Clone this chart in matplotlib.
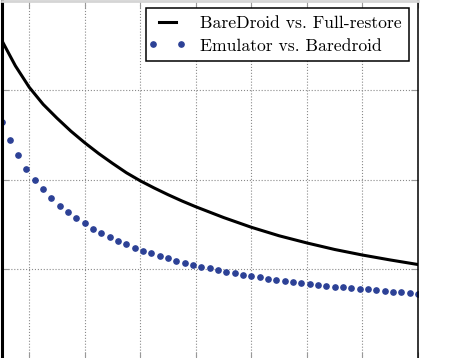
import matplotlib
matplotlib.use('Agg')
import matplotlib.pyplot as plt
from matplotlib.legend_handler import HandlerLine2D

plt.rcParams['font.family'] = ['cmr10', 'DejaVu Serif']
plt.rcParams['axes.unicode_minus'] = False

# solid curve: BareDroid vs. Full-restore
full_x = [0.5, 0.75, 1.0, 1.25, 1.5, 1.75, 2.0, 2.25, 2.5, 2.75, 3.0, 3.25,
          3.5, 3.75, 4.0, 4.5, 5.0, 5.5, 6.0, 6.5, 7.0, 7.5, 8.0]
full_y = [3.56, 3.27, 3.03, 2.84, 2.685, 2.54, 2.41, 2.29, 2.18, 2.075, 1.985, 1.905,
          1.83, 1.76, 1.695, 1.575, 1.466, 1.371, 1.291, 1.218, 1.156, 1.101, 1.05]

# dotted curve: Emulator vs. Baredroid
emu_x = [0.5, 0.65, 0.8, 0.95, 1.1, 1.25, 1.4, 1.55, 1.7, 1.85,
         2.0, 2.15, 2.3, 2.45, 2.6, 2.75, 2.9, 3.05, 3.2, 3.35,
         3.5, 3.65, 3.8, 3.95, 4.1, 4.25, 4.4, 4.55, 4.7, 4.85,
         5.0, 5.15, 5.3, 5.45, 5.6, 5.75, 5.9, 6.05, 6.2, 6.35,
         6.5, 6.65, 6.8, 6.95, 7.1, 7.25, 7.4, 7.55, 7.7, 7.85, 8.0]
emu_y = [2.64, 2.44, 2.27, 2.12, 1.99, 1.89, 1.79, 1.70, 1.64, 1.57,
         1.51, 1.45, 1.40, 1.36, 1.31, 1.28, 1.24, 1.20, 1.18, 1.15,
         1.12, 1.09, 1.07, 1.045, 1.02, 1.01, 0.99, 0.97, 0.955, 0.933,
         0.922, 0.911, 0.888, 0.877, 0.866, 0.855, 0.844, 0.832, 0.821, 0.81,
         0.80, 0.795, 0.788, 0.777, 0.772, 0.765, 0.754, 0.745, 0.740, 0.732, 0.721]

fig = plt.figure(figsize=(4.74, 3.58), dpi=100)
ax = fig.add_axes([1.5/474, -0.5/358, 416.5/474, 358/358])

ax.plot(full_x, full_y, ls='-', color='black', lw=2.2, solid_joinstyle='round',
        label='BareDroid vs. Full-restore')
emu_line, = ax.plot(emu_x, emu_y, ls='none', marker='o', ms=3.8, color='#2c4196',
                    label='Emulator vs. Baredroid')

ax.set_xlim(0.5, 8)
ax.set_ylim(0, 4)
ax.set_xticks([1, 2, 3, 4, 5, 6, 7, 8])
ax.set_yticks([1, 2, 3])
ax.set_xticklabels([])
ax.set_yticklabels([])
ax.tick_params(direction='in', length=5, color='#999999', top=True, right=True)
ax.grid(True, ls=':', color='#8a8a8a', lw=0.8)

ax.spines['left'].set_linewidth(2.2)
ax.spines['right'].set_linewidth(1.1)
ax.spines['top'].set_color('#d5d5d5')
ax.spines['top'].set_linewidth(2)
ax.spines['bottom'].set_visible(False)

leg = ax.legend(loc='upper right', bbox_to_anchor=(409/474, 1 - 8/358),
                bbox_transform=fig.transFigure, borderaxespad=0,
                numpoints=2, fontsize=12.7, fancybox=False, framealpha=1,
                edgecolor='black', handlelength=1.6, handletextpad=1.05,
                borderpad=0.42, labelspacing=0.42,
                handler_map={emu_line: HandlerLine2D(marker_pad=0)})
leg.get_frame().set_linewidth(1.1)

plt.savefig('out.png', dpi=100)
plt.close()
